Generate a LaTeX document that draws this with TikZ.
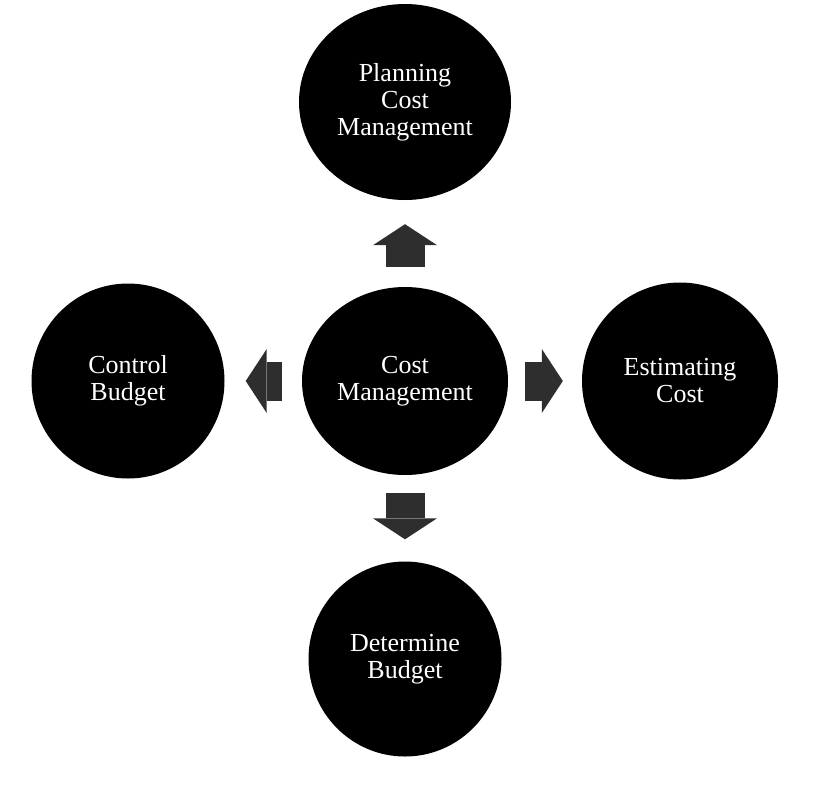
\documentclass[tikz,border=0pt]{standalone}
\usepackage{fontspec}
\setmainfont{Liberation Serif}
\usetikzlibrary{shapes.geometric,arrows.meta}
\begin{document}
\begin{tikzpicture}[x=1pt,y=-1pt,
  bubble/.style={ellipse,fill=black,draw=none,inner sep=0pt,text=white,align=center,
    font=\fontsize{26}{27}\selectfont},
  blockarrow/.style={draw=black!82,line width=39pt,
    -{Triangle[length=21pt,width=64pt,line width=0pt]}}]
\useasboundingbox (0,0) rectangle (813,785);
\fill[white] (0,0) rectangle (813,785);
\node[bubble,minimum width=212pt,minimum height=196pt] (top) at (405,102) {Planning\\Cost\\Management};
\node[bubble,minimum width=206pt,minimum height=188pt] (cen) at (405,381) {Cost\\Management};
\node[bubble,minimum width=193pt,minimum height=195pt] (lft) at (128,381) {Control\\Budget};
\node[bubble,minimum width=196pt,minimum height=197pt] (rgt) at (680,381) {Estimating\\Cost};
\node[bubble,minimum width=193pt,minimum height=195pt] (bot) at (405,659) {Determine\\Budget};
\draw[blockarrow,shorten <=20pt,shorten >=24pt] (cen.north) -- (top.south);
\draw[blockarrow,shorten <=20pt,shorten >=21pt] (cen.west) -- (lft.east);
\draw[blockarrow,shorten <=17pt,shorten >=19pt] (cen.east) -- (rgt.west);
\draw[blockarrow,shorten <=18pt,shorten >=22pt] (cen.south) -- (bot.north);
\end{tikzpicture}
\end{document}
